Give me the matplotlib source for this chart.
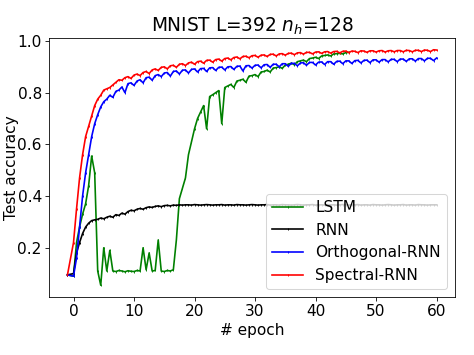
import numpy as np
import matplotlib
matplotlib.use("Agg")
import matplotlib.pyplot as plt

# epoch grid: a first point at -1, then every half epoch up to 60
epochs = np.concatenate([[-1.0], np.arange(0, 60.5, 0.5)])

lstm = [0.095,
        0.09, 0.22, 0.28, 0.33, 0.37, 0.44, 0.555, 0.49, 0.11, 0.055,
        0.20, 0.11, 0.19, 0.11, 0.108, 0.112, 0.11, 0.107, 0.111, 0.109,
        0.108, 0.112, 0.11, 0.20, 0.115, 0.18, 0.11, 0.112, 0.23, 0.11,
        0.108, 0.112, 0.11, 0.115, 0.23, 0.39, 0.43, 0.47, 0.56, 0.61,
        0.66, 0.70, 0.725, 0.75, 0.66, 0.785, 0.792, 0.80, 0.808, 0.68,
        0.82, 0.826, 0.832, 0.82, 0.845, 0.848, 0.852, 0.84, 0.864, 0.866,
        0.87, 0.862, 0.88, 0.882, 0.887, 0.88, 0.895, 0.897, 0.90, 0.894,
        0.907, 0.91, 0.914, 0.908, 0.92, 0.923, 0.926, 0.92, 0.932, 0.934,
        0.937, 0.932, 0.942, 0.944, 0.946, 0.942, 0.95, 0.951, 0.952, 0.95,
        0.955, 0.956]

rnn = [0.095,
       0.10, 0.18, 0.22, 0.255, 0.28, 0.295, 0.305, 0.308, 0.31, 0.315,
       0.312, 0.318, 0.322, 0.318, 0.328, 0.325, 0.334, 0.33, 0.34, 0.345,
       0.343, 0.349, 0.352, 0.349, 0.355, 0.358, 0.356, 0.36, 0.362, 0.359,
       0.363, 0.364, 0.362, 0.365, 0.364, 0.366, 0.365, 0.366, 0.366, 0.365,
       0.367, 0.366, 0.365, 0.366, 0.367, 0.366, 0.365, 0.366, 0.366, 0.367,
       0.365, 0.366, 0.366, 0.365, 0.367, 0.366, 0.366, 0.365, 0.366, 0.367,
       0.366, 0.365, 0.366, 0.366, 0.367, 0.365, 0.366, 0.366, 0.365, 0.367,
       0.366, 0.366, 0.365, 0.366, 0.367, 0.366, 0.365, 0.366, 0.366, 0.367,
       0.365, 0.366, 0.366, 0.365, 0.367, 0.366, 0.366, 0.365, 0.366, 0.367,
       0.366, 0.365, 0.366, 0.366, 0.367, 0.365, 0.366, 0.366, 0.365, 0.367,
       0.366, 0.366, 0.365, 0.366, 0.367, 0.366, 0.365, 0.366, 0.366, 0.367,
       0.365, 0.366, 0.366, 0.365, 0.367, 0.366, 0.366, 0.365, 0.366, 0.366,
       0.366]

orthogonal = [0.095,
              0.09, 0.16, 0.28, 0.40, 0.49, 0.56, 0.63, 0.68, 0.715, 0.745,
              0.765, 0.775, 0.79, 0.782, 0.805, 0.81, 0.822, 0.80, 0.835, 0.838,
              0.828, 0.845, 0.85, 0.838, 0.858, 0.86, 0.848, 0.866, 0.87, 0.862,
              0.876, 0.878, 0.864, 0.882, 0.884, 0.872, 0.887, 0.888, 0.876, 0.89,
              0.892, 0.88, 0.893, 0.894, 0.882, 0.896, 0.897, 0.886, 0.898, 0.899,
              0.888, 0.90, 0.901, 0.89, 0.902, 0.903, 0.884, 0.904, 0.905, 0.895,
              0.906, 0.907, 0.896, 0.908, 0.909, 0.898, 0.91, 0.91, 0.90, 0.912,
              0.912, 0.902, 0.914, 0.913, 0.904, 0.915, 0.916, 0.906, 0.917, 0.917,
              0.907, 0.918, 0.919, 0.909, 0.92, 0.92, 0.91, 0.921, 0.922, 0.912,
              0.923, 0.923, 0.913, 0.924, 0.925, 0.915, 0.925, 0.926, 0.916, 0.927,
              0.927, 0.918, 0.928, 0.928, 0.919, 0.929, 0.929, 0.92, 0.93, 0.93,
              0.921, 0.931, 0.931, 0.922, 0.932, 0.932, 0.923, 0.933, 0.933, 0.924,
              0.934]

spectral = [0.095,
            0.22, 0.35, 0.47, 0.56, 0.63, 0.67, 0.71, 0.75, 0.775, 0.79,
            0.81, 0.815, 0.82, 0.83, 0.84, 0.85, 0.848, 0.858, 0.862, 0.855,
            0.868, 0.872, 0.866, 0.878, 0.882, 0.874, 0.888, 0.892, 0.886, 0.898,
            0.90, 0.892, 0.904, 0.906, 0.898, 0.91, 0.912, 0.905, 0.915, 0.918,
            0.91, 0.92, 0.922, 0.914, 0.925, 0.926, 0.918, 0.928, 0.93, 0.922,
            0.932, 0.934, 0.927, 0.936, 0.938, 0.931, 0.94, 0.941, 0.935, 0.943,
            0.944, 0.937, 0.945, 0.946, 0.94, 0.948, 0.949, 0.942, 0.95, 0.951,
            0.945, 0.952, 0.953, 0.947, 0.954, 0.955, 0.949, 0.956, 0.956, 0.95,
            0.957, 0.958, 0.952, 0.958, 0.959, 0.953, 0.959, 0.96, 0.954, 0.96,
            0.961, 0.955, 0.961, 0.96, 0.955, 0.962, 0.961, 0.956, 0.962, 0.962,
            0.957, 0.962, 0.963, 0.957, 0.962, 0.963, 0.958, 0.963, 0.963, 0.958,
            0.964, 0.963, 0.958, 0.964, 0.964, 0.959, 0.965, 0.964, 0.959, 0.966,
            0.965]

series = [("LSTM", lstm, "g"),
          ("RNN", rnn, "k"),
          ("Orthogonal-RNN", orthogonal, "b"),
          ("Spectral-RNN", spectral, "r")]

fig = plt.figure(figsize=(474 / 74, 355 / 74), dpi=74)
ax = fig.add_axes([49 / 474, 1 - 297 / 355, 406 / 474, 259 / 355])

for name, vals, col in series:
    ax.plot(epochs[:len(vals)], vals, color=col, linewidth=1.6,
            marker="|", markersize=2.5, markeredgewidth=0.9, label=name)

ax.set_title("MNIST L=392 $n_h$=128", fontsize=18)
ax.set_xlabel("# epoch", fontsize=15)
ax.set_ylabel("Test accuracy", fontsize=15)
# keep the y label just inside the left edge of the figure
ax.yaxis.set_label_coords(-0.074, 0.5)
ax.set_xticks([0, 10, 20, 30, 40, 50, 60])
ax.set_yticks([0.2, 0.4, 0.6, 0.8, 1.0])
ax.tick_params(labelsize=15)
ax.legend(loc="lower right", fontsize=15)

fig.savefig("out.png", dpi=74)
